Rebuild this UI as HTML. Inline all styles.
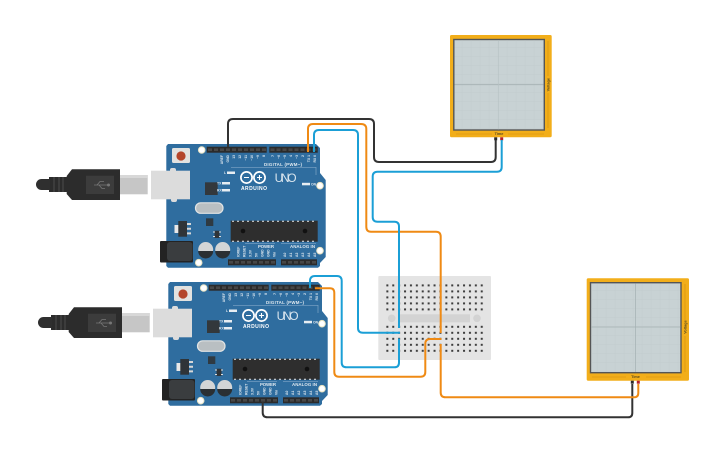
<!DOCTYPE html>
<html><head><meta charset="utf-8"><style>
html,body{margin:0;padding:0;background:#fff}
svg{display:block;filter:blur(.3px)}
text{font-family:"Liberation Sans",sans-serif}
.w{fill:#fff}
.p{font-size:3.4px;fill:#dfe8ef;font-weight:bold}
.wire{fill:none;stroke-width:2;stroke-linecap:butt}
</style></head><body>
<svg width="725" height="453" viewBox="0 0 725 453" xmlns="http://www.w3.org/2000/svg">
<defs>
<pattern id="holes" x="384.35" y="282.5" width="5.9" height="6" patternUnits="userSpaceOnUse"><rect x="2" y="1.9" width="2" height="2" fill="#3c3c3c"/></pattern>
<pattern id="holes2" x="384.35" y="323.9" width="5.9" height="6" patternUnits="userSpaceOnUse"><rect x="2" y="1.9" width="2" height="2" fill="#3c3c3c"/></pattern>
<pattern id="g1" x="453.3" y="39" width="9" height="9" patternUnits="userSpaceOnUse"><path d="M9 0V9M0 9H9" stroke="#bcc7c9" stroke-width=".5" fill="none"/></pattern>
<g id="board">
 <path d="M168 144H316L320 148V173L325.7 180V257L320 263V266L318 267.7H168L166.3 266V146Z" fill="#2f6d9f"/>
 <rect x="172" y="148" width="18" height="15" rx="1.5" fill="#e2e2e0"/>
 <circle cx="181" cy="156" r="4.6" fill="#b4452a"/>
 <g fill="#fff" stroke="#e8e2c0" stroke-width="1"><circle cx="201.7" cy="150" r="3.3"/><circle cx="320" cy="185.7" r="3.3"/><circle cx="320" cy="250.7" r="3.3"/><circle cx="198.7" cy="262.7" r="3.3"/></g>
 <g fill="#2b2b2b"><rect x="206.7" y="146.7" width="60" height="6"/><rect x="269.3" y="146.7" width="48.4" height="6"/><rect x="228" y="259.3" width="48" height="6"/><rect x="281" y="259.3" width="36" height="6"/></g>
 <g stroke="#474747" stroke-width="2.6" stroke-dasharray="4 2" fill="none"><path d="M208 149.7H266M270.5 149.7H317M229 262.3H276M282 262.3H317"/></g>
 <path d="M231 167.3H316V175" stroke="#7fa6c6" stroke-width=".7" fill="none"/>
 <path d="M245 243.3H275M281 243.3H316" stroke="#7fa6c6" stroke-width=".7" fill="none"/>
 <rect x="205" y="182.3" width="12.7" height="12.7" fill="#33383c"/>
 <rect x="195.5" y="202.8" width="27.5" height="10.5" rx="5.2" fill="#b9bfc2" stroke="#e2e4e4" stroke-width="1.2"/>
 <rect x="206" y="218.3" width="7.3" height="7.7" fill="#2f3a42"/>
 <rect x="174.5" y="225" width="4" height="8" fill="#e8e8e8"/><rect x="178.3" y="221" width="8.7" height="15.7" fill="#2f3438"/>
 <path d="M187 224H191M187 228.7H191M187 233.4H191" stroke="#d8d8d8" stroke-width="2"/>
 <rect x="214.5" y="230.7" width="5" height="7.3" fill="#2f3438"/><path d="M213 232H215M213 236.5H215M219 232H221M219 236.5H221" stroke="#ddd" stroke-width="1.1"/>
 <rect x="230.7" y="220.7" width="87" height="21" fill="#2e2e2e"/>
 <path d="M232 221.2H317M232 241.2H317" stroke="#e8e8e8" stroke-width="1" stroke-dasharray="2 3"/>
 <circle cx="243" cy="231" r="2.3" fill="#111"/><circle cx="305" cy="231" r="2.3" fill="#111"/>
 <g><circle cx="205.7" cy="249.5" r="7.5" fill="#d3d5d6"/><path d="M198.2 251A7.5 7.5 0 0 0 213.2 251Z" fill="#2a2f33"/><circle cx="222.7" cy="249.5" r="7.5" fill="#d3d5d6"/><path d="M215.2 251A7.5 7.5 0 0 0 230.2 251Z" fill="#2a2f33"/></g>
 <rect x="160" y="241" width="33" height="21.5" rx="1" fill="#232323"/><rect x="167" y="242" width="25.5" height="19" rx="3" fill="#3a3d3f"/>
 <rect x="170" y="168" width="6" height="6" rx="2" fill="#dcdcdc"/><rect x="171" y="196" width="6" height="6" rx="2" fill="#dcdcdc"/>
 <rect x="151" y="170.7" width="39" height="28.6" fill="#dcdcdc"/>
 <rect x="120" y="175" width="27.7" height="19.3" fill="#c6c6c6"/><rect x="120" y="175" width="27.7" height="3" fill="#d8d8d8"/>
 <path d="M72 169.3H120V200H72L66.7 194V176Z" fill="#2c2c2c"/>
 <rect x="86" y="175.7" width="28" height="18.3" fill="#3c3c3c"/>
 <path d="M94 185H109M97 185L100 181.5H104M99 185L102 188.5H105" stroke="#777" stroke-width=".8" fill="none"/>
 <circle cx="108.5" cy="185" r="1.5" fill="#777"/>
 <rect x="49" y="177" width="18" height="15" fill="#2c2c2c"/><path d="M54 177V192M59 177V192M63 177V192" stroke="#4b4b4b" stroke-width="1"/>
 <path d="M50 179H41.5A5.5 5.5 0 0 0 41.5 190H50Z" fill="#2f2f2f"/>
 <g fill="#e7edf2"><rect x="227" y="171.5" width="8" height="2.5"/><rect x="222" y="182" width="8" height="2.5"/><rect x="222" y="189" width="8" height="2.5"/><rect x="302" y="182.8" width="8" height="2.5"/></g>
 <circle cx="246.5" cy="177.5" r="5.6" fill="none" stroke="#fff" stroke-width="1.7"/><circle cx="259.5" cy="177.5" r="5.6" fill="none" stroke="#fff" stroke-width="1.7"/>
 <path d="M244 177.5H249M257 177.5H262M259.5 175V180" stroke="#fff" stroke-width="1.1"/>
</g>
</defs>
<rect width="725" height="453" fill="#fff"/>

<!-- Breadboard -->
<rect x="378.3" y="276" width="112.7" height="84" rx="1" fill="#e4e4e4"/>
<rect x="384.35" y="282.5" width="100.3" height="30" fill="url(#holes)"/>
<rect x="384.35" y="323.9" width="100.3" height="30" fill="url(#holes2)"/>
<rect x="400" y="314.3" width="70" height="8" fill="#d3d3d3"/>
<circle cx="391.7" cy="318.3" r="3.8" fill="#d3d3d3"/><circle cx="477" cy="318.3" r="3.8" fill="#d3d3d3"/>

<!-- Board 1 -->
<use href="#board"/>
<g>
<text x="241" y="190.2" class="w" font-size="5" font-weight="bold" textLength="26" lengthAdjust="spacing">ARDUINO</text>
<text x="274.6" y="182" fill="#d9e5ee" font-size="12" textLength="22" lengthAdjust="spacing">UNO</text>
<text x="264" y="166" class="p" style="font-size:4.4px" textLength="38">DIGITAL (PWM~)</text>
<text x="258" y="248" class="p" style="font-size:4.4px" textLength="16">POWER</text>
<text x="290" y="248" class="p" style="font-size:4.4px" textLength="25">ANALOG IN</text>
<text x="311" y="185.7" class="p">ON</text><text x="224" y="174" class="p">L</text><text x="217" y="184.6" class="p">TX</text><text x="217" y="191.6" class="p">RX</text>
<g class="p" text-anchor="end"><text transform="translate(223,155) rotate(-90)">AREF</text><text transform="translate(229,155) rotate(-90)">GND</text><text transform="translate(235,155) rotate(-90)">13</text><text transform="translate(241,155) rotate(-90)">12</text><text transform="translate(247,155) rotate(-90)">~11</text><text transform="translate(253,155) rotate(-90)">~10</text><text transform="translate(259,155) rotate(-90)">~9</text><text transform="translate(265,155) rotate(-90)">8</text><text transform="translate(274,155) rotate(-90)">7</text><text transform="translate(280,155) rotate(-90)">~6</text><text transform="translate(286,155) rotate(-90)">~5</text><text transform="translate(292,155) rotate(-90)">4</text><text transform="translate(298,155) rotate(-90)">~3</text><text transform="translate(304,155) rotate(-90)">2</text><text transform="translate(310,155) rotate(-90)">TX 1</text><text transform="translate(316,155) rotate(-90)">RX 0</text></g>
<g class="p"><text transform="translate(239.5,257) rotate(-90)">IOREF</text><text transform="translate(245.5,257) rotate(-90)">RESET</text><text transform="translate(251.5,257) rotate(-90)">3.3V</text><text transform="translate(257.5,257) rotate(-90)">5V</text><text transform="translate(263.5,257) rotate(-90)">GND</text><text transform="translate(269.5,257) rotate(-90)">GND</text><text transform="translate(275.5,257) rotate(-90)">Vin</text><text transform="translate(286,257) rotate(-90)">A0</text><text transform="translate(292,257) rotate(-90)">A1</text><text transform="translate(298,257) rotate(-90)">A2</text><text transform="translate(304,257) rotate(-90)">A3</text><text transform="translate(310,257) rotate(-90)">A4</text><text transform="translate(316,257) rotate(-90)">A5</text></g>
</g>

<!-- Board 2 -->
<use href="#board" x="2" y="138"/>
<g transform="translate(2,138)">
<text x="241" y="190.2" class="w" font-size="5" font-weight="bold" textLength="26" lengthAdjust="spacing">ARDUINO</text>
<text x="274.6" y="182" fill="#d9e5ee" font-size="12" textLength="22" lengthAdjust="spacing">UNO</text>
<text x="264" y="166" class="p" style="font-size:4.4px" textLength="38">DIGITAL (PWM~)</text>
<text x="258" y="248" class="p" style="font-size:4.4px" textLength="16">POWER</text>
<text x="290" y="248" class="p" style="font-size:4.4px" textLength="25">ANALOG IN</text>
<text x="311" y="185.7" class="p">ON</text><text x="224" y="174" class="p">L</text><text x="217" y="184.6" class="p">TX</text><text x="217" y="191.6" class="p">RX</text>
<g class="p" text-anchor="end"><text transform="translate(223,155) rotate(-90)">AREF</text><text transform="translate(229,155) rotate(-90)">GND</text><text transform="translate(235,155) rotate(-90)">13</text><text transform="translate(241,155) rotate(-90)">12</text><text transform="translate(247,155) rotate(-90)">~11</text><text transform="translate(253,155) rotate(-90)">~10</text><text transform="translate(259,155) rotate(-90)">~9</text><text transform="translate(265,155) rotate(-90)">8</text><text transform="translate(274,155) rotate(-90)">7</text><text transform="translate(280,155) rotate(-90)">~6</text><text transform="translate(286,155) rotate(-90)">~5</text><text transform="translate(292,155) rotate(-90)">4</text><text transform="translate(298,155) rotate(-90)">~3</text><text transform="translate(304,155) rotate(-90)">2</text><text transform="translate(310,155) rotate(-90)">TX 1</text><text transform="translate(316,155) rotate(-90)">RX 0</text></g>
<g class="p"><text transform="translate(239.5,257) rotate(-90)">IOREF</text><text transform="translate(245.5,257) rotate(-90)">RESET</text><text transform="translate(251.5,257) rotate(-90)">3.3V</text><text transform="translate(257.5,257) rotate(-90)">5V</text><text transform="translate(263.5,257) rotate(-90)">GND</text><text transform="translate(269.5,257) rotate(-90)">GND</text><text transform="translate(275.5,257) rotate(-90)">Vin</text><text transform="translate(286,257) rotate(-90)">A0</text><text transform="translate(292,257) rotate(-90)">A1</text><text transform="translate(298,257) rotate(-90)">A2</text><text transform="translate(304,257) rotate(-90)">A3</text><text transform="translate(310,257) rotate(-90)">A4</text><text transform="translate(316,257) rotate(-90)">A5</text></g>
</g>

<!-- Oscilloscope 1 -->
<rect x="450" y="35" width="101.7" height="102.3" rx="1.5" fill="#f2ae1a"/>
<rect x="453.8" y="39.5" width="90.5" height="90.5" fill="#c8d2d4" stroke="#555" stroke-width="1.4"/>
<rect x="454.5" y="40.2" width="89" height="89" fill="url(#g1)"/>
<path d="M454.5 84.7H543.5" stroke="#a4b0b2" stroke-width=".8"/>
<path d="M498.7 40.2V129.2" stroke="#b8c3c5" stroke-width=".6"/>
<path d="M456 134H492M508 134H544M548 41V76M548 93V128" stroke="#d18f10" stroke-width=".6" fill="none"/>
<text x="499" y="135.2" font-size="3.8" fill="#5a4a20" text-anchor="middle" font-weight="bold">Time</text>
<text transform="translate(549.5,84.7) rotate(-90)" font-size="3.8" fill="#5a4a20" text-anchor="middle" font-weight="bold">Voltage</text>
<rect x="494.2" y="137.3" width="3" height="3" fill="#2b2b2b"/><rect x="500.2" y="137.3" width="3" height="3" fill="#b5212a"/>

<!-- Oscilloscope 2 -->
<rect x="586.7" y="278.3" width="102.3" height="102.4" rx="1.5" fill="#f2ae1a"/>
<rect x="590.5" y="282.7" width="90.5" height="90" fill="#c8d2d4" stroke="#555" stroke-width="1.4"/>
<rect x="591.2" y="283.4" width="89" height="88.6" fill="url(#g1)"/>
<path d="M591.2 327H680.2" stroke="#a4b0b2" stroke-width=".8"/>
<path d="M635.5 283.4V372" stroke="#a4b0b2" stroke-width=".7"/>
<path d="M592 377H626M646 377H681M685 284V320M685 336V372" stroke="#d18f10" stroke-width=".6" fill="none"/>
<text x="635.5" y="378" font-size="3.8" fill="#5a4a20" text-anchor="middle" font-weight="bold">Time</text>
<text transform="translate(686.5,327) rotate(-90)" font-size="3.8" fill="#5a4a20" text-anchor="middle" font-weight="bold">Voltage</text>
<rect x="630.8" y="380.7" width="3" height="3" fill="#2b2b2b"/><rect x="636.8" y="380.7" width="3" height="3" fill="#b5212a"/>

<!-- Wires -->
<g class="wire">
<path class="wire" stroke="#333" d="M228 147V124Q228 119 233 119H369Q374 119 374 124V157Q374 162 379 162H491Q495.7 162 495.7 157V140"/>
<path class="wire" stroke="#333" d="M262.7 402V412.5Q262.7 417.3 267.5 417.3H628Q632.3 417.3 632.3 413V384"/>
<path class="wire" stroke="#ef8a14" d="M308 152V129Q308 124 313 124H361Q366.3 124 366.3 129V226.7Q366.3 231.7 371 231.7H436Q440.7 231.7 440.7 236.7V333"/>
<path class="wire" stroke="#ef8a14" d="M440.7 344V392.5Q440.7 397.3 445.5 397.3H634Q638.3 397.3 638.3 393V384"/>
<path class="wire" stroke="#ef8a14" d="M315 288.3H330Q334.3 288.3 334.3 293V372Q334.3 376.7 339 376.7H420.5Q425.3 376.7 425.3 372V344Q425.3 339 430 339H441.5"/>
<path class="wire" stroke="#1b9fd6" d="M314 152V135Q314 130 319 130H353Q358 130 358 135V328Q358 332.7 363 332.7H400"/>
<path class="wire" stroke="#1b9fd6" d="M310 288V281Q310 276 315 276H337Q341.7 276 341.7 281V362.5Q341.7 367.3 346.5 367.3H394.5Q399 367.3 399 362.5V338.5"/>
<path class="wire" stroke="#1b9fd6" d="M501.7 140V167Q501.7 171.7 497 171.7H377.5Q372.7 171.7 372.7 176.5V217Q372.7 221.7 377.5 221.7H394.5Q399 221.7 399 226.5V328"/>
</g>
</svg>
</body></html>
